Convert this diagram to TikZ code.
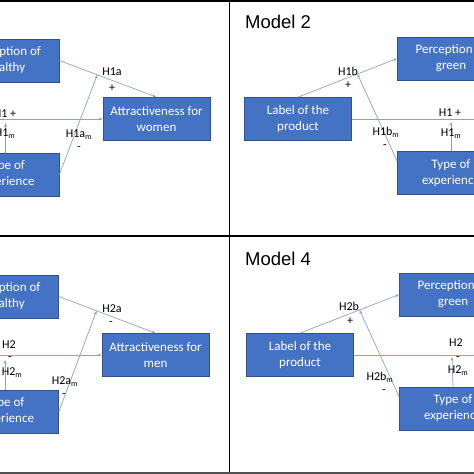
\documentclass[tikz,border=0pt]{standalone}
\usepackage{fontspec}
\setmainfont{Carlito}
\newfontfamily\titlefont{Liberation Sans}
\usetikzlibrary{arrows.meta,calc}
\definecolor{boxblue}{HTML}{4472C4}
\definecolor{boxline}{HTML}{2F528F}
\definecolor{linkgray}{HTML}{8DA2C6}
\definecolor{framegray}{HTML}{505050}

\tikzset{
  box/.style={draw=boxline,line width=0.8pt,fill=boxblue,text=white,
    minimum width=107pt,minimum height=43pt,inner sep=0pt,align=center,
    font=\fontsize{13}{16}\selectfont},
  link/.style={draw=linkgray,line width=0.7pt,-{Stealth[length=4pt,width=3pt]}},
  lab/.style={inner sep=0pt,font=\fontsize{12}{13}\selectfont},
  title/.style={inner sep=0pt,anchor=base west,font=\titlefont\fontsize{18.5}{20}\selectfont},
}

\begin{document}
\begin{tikzpicture}[x=1pt,y=-1pt]
\useasboundingbox (0,0) rectangle (474,474);
\clip (0,0) rectangle (474,474);
\fill[white] (0,0) rectangle (474,474);

% Model 1
\node[box] (healthy1) at (5.5,60.5) {Perception of\\healthy};
\node[box] (attr1) at (156.5,119) {Attractiveness for\\women};
\node[box] (type1) at (5.5,174.5) {Type of\\experience};
\coordinate (in1) at (-20,119);
\coordinate (mod1) at ($(healthy1.east)!0.39!(attr1.north)$);
\coordinate (tip1) at (5.5,123);
\draw[link] (in1) -- (attr1);
\draw[link] (healthy1.east) -- (attr1.north);
\draw[link] (type1.east) -- (mod1);
\draw[link] (type1.north) -- (tip1);
\node[lab] (h1) at (5,113.5) {H1 +};
\node[lab] (h1m) at (5,134) {H1\textsubscript{m}};
\node[lab] (h1a) at (112,72) {H1a};
\node[lab] (s1a) at (112,88) {+};
\node[lab] (h1am) at (79,135) {H1a\textsubscript{m}};
\node[lab] (s1am) at (79,149) {-};

% Model 2
\node[title] (title2) at (245,28) {Model 2};
\node[box] (green2) at (451,58.5) {Perception of\\green};
\node[box] (label2) at (298,119) {Label of the\\product};
\node[box] (type2) at (451,173) {Type of\\experience};
\coordinate (out2) at (490,119);
\coordinate (mod2) at ($(label2.north)!0.6!(green2.west)$);
\coordinate (src2) at ($(type2.north west)+(0,10)$);
\coordinate (tip2) at (451,122);
\draw[link] (label2.north) -- (green2.west);
\draw[link] (label2) -- (out2);
\draw[link] (src2) -- (mod2);
\draw[link] (type2.north) -- (tip2);
\node[lab] (h1b) at (348,71) {H1b};
\node[lab] (s1b) at (348,85) {+};
\node[lab] (h1r) at (450,113) {H1 +};
\node[lab] (h1mr) at (451,134) {H1\textsubscript{m}};
\node[lab] (h1bm) at (386,132) {H1b\textsubscript{m}};
\node[lab] (s1bm) at (385,147) {-};

% Model 3
\node[box] (healthy3) at (5,296.5) {Perception of\\healthy};
\node[box] (attr3) at (155.5,355) {Attractiveness for\\men};
\node[box] (type3) at (5,411.5) {Type of\\experience};
\coordinate (in3) at (-20,355);
\coordinate (mod3) at ($(healthy3.east)!0.39!(attr3.north)$);
\coordinate (tip3) at (5,360);
\draw[link] (in3) -- (attr3);
\draw[link] (healthy3.east) -- (attr3.north);
\draw[link] (type3.east) -- (mod3);
\draw[link] (type3.north) -- (tip3);
\node[lab] (h2) at (9,345) {H2};
\node[lab] (s2) at (10,359) {-};
\node[lab] (h2m) at (12,373) {H2\textsubscript{m}};
\node[lab] (h2a) at (112,309) {H2a};
\node[lab] (s2a) at (111,324) {-};
\node[lab] (h2am) at (65,382) {H2a\textsubscript{m}};
\node[lab] (s2am) at (64,396) {-};

% Model 4
\node[title] (title4) at (245,265) {Model 4};
\node[box] (green4) at (453,294.5) {Perception of\\green};
\node[box] (label4) at (300,355) {Label of the\\product};
\node[box] (type4) at (453,408.5) {Type of\\experience};
\coordinate (out4) at (490,355);
\coordinate (mod4) at ($(label4.north)!0.6!(green4.west)$);
\coordinate (src4) at ($(type4.north west)+(0,10)$);
\coordinate (tip4) at (452,357);
\draw[link] (label4.north) -- (green4.west);
\draw[link] (label4) -- (out4);
\draw[link] (src4) -- (mod4);
\draw[link] (type4.north) -- (tip4);
\node[lab] (h2r) at (456,343) {H2};
\node[lab] (s2r) at (458,359) {-};
\node[lab] (h2mr) at (458,371) {H2\textsubscript{m}};
\node[lab] (h2b) at (349,306) {H2b};
\node[lab] (s2b) at (350,321) {+};
\node[lab] (h2bm) at (380,377) {H2b\textsubscript{m}};
\node[lab] (s2bm) at (384,392) {-};

% frame
\draw[line width=2pt] (0,1) -- (474,1);
\draw[line width=1.5pt] (0,236) -- (474,236);
\draw[line width=1.5pt] (229.5,0) -- (229.5,474);
\draw[line width=2.5pt,framegray] (0,472.75) -- (474,472.75);
\end{tikzpicture}
\end{document}
